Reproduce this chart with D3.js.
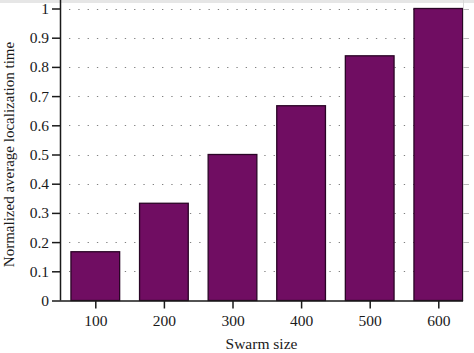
<!DOCTYPE html>
<html>
<head>
<meta charset="utf-8">
<script src="https://cdn.jsdelivr.net/npm/d3@7"></script>
<style>
  body { margin: 0; background: #fff; }
  svg { display: block; font-family: "Liberation Serif", "DejaVu Serif", serif; }
</style>
</head>
<body>
<svg width="474" height="353"></svg>
<script>
'use strict';

const swarmSizes = ['100', '200', '300', '400', '500', '600']
const normTime = [0.167, 0.333, 0.5, 0.667, 0.838, 1.0]
const yTicks = [0, 0.1, 0.2, 0.3, 0.4, 0.5, 0.6, 0.7, 0.8, 0.9, 1]

const svg = d3.select('svg')
const plotL = 60, plotR = 463, plotT = 8.5, plotB = 300.5

// light band at the very top
svg.append('rect').attr('x', 0).attr('y', 0).attr('width', 474).attr('height', 3).style('fill', '#e6e6e6')

const x = d3.scalePoint().domain(swarmSizes).range([61, 472.6]).padding(0.5)
const barW = x.step() * 0.71
const y = d3.scaleLinear().domain([0, 1]).range([plotB, plotT])

// dotted grid
svg.append('g').selectAll('line')
  .data(yTicks.slice(1))
  .enter()
  .append('line')
  .attr('x1', plotL + 9).attr('x2', plotR)
  .attr('y1', (d) => Math.round(y(d)) + 0.5)
  .attr('y2', (d) => Math.round(y(d)) + 0.5)
  .style('stroke', '#808080')
  .style('stroke-width', 1.2)
  .style('stroke-dasharray', '1.3 8')

// bars
svg.append('g').selectAll('rect')
  .data(normTime)
  .enter()
  .append('rect')
  .attr('x', (d, i) => x(swarmSizes[i]) - barW / 2)
  .attr('y', (d) => y(d))
  .attr('width', barW)
  .attr('height', (d) => plotB - y(d))
  .style('fill', '#700d62')
  .style('stroke', '#2a0526')
  .style('stroke-width', 1.3)

// right frame (faint)
svg.append('line').attr('x1', plotR + 0.5).attr('x2', plotR + 0.5).attr('y1', 0).attr('y2', plotB)
  .style('stroke', '#d8d8d8').style('stroke-width', 1)
svg.append('g').selectAll('line')
  .data(yTicks.slice(1))
  .enter()
  .append('line')
  .attr('x1', plotR).attr('x2', plotR + 6)
  .attr('y1', (d) => Math.round(y(d)) + 0.5)
  .attr('y2', (d) => Math.round(y(d)) + 0.5)
  .style('stroke', '#bbb')

// y axis
const yAxis = svg.append('g')
  .attr('transform', `translate(${plotL},0)`)
  .call(d3.axisLeft(y).tickValues(yTicks).tickFormat(d3.format('')).tickSize(8).tickPadding(3))
yAxis.select('.domain').attr('d', `M0.5,0V${plotB}`)

// x axis
const xAxis = svg.append('g')
  .attr('transform', `translate(0,${plotB})`)
  .call(d3.axisBottom(x).tickSize(8).tickPadding(6))
xAxis.select('.domain').attr('d', `M${plotL},0.5H${plotR}`)

svg.selectAll('.domain').style('stroke', '#1a1a1a').style('stroke-width', 1.5)
svg.selectAll('.tick line').style('stroke', '#1a1a1a').style('stroke-width', 1.5)
svg.selectAll('.tick text').style('font-family', '"Liberation Serif", serif').style('font-size', '15.5px').style('fill', '#1a1a1a')

// axis titles
svg.append('text')
  .attr('x', (plotL + plotR) / 2).attr('y', 349)
  .attr('text-anchor', 'middle')
  .style('font-size', '15.5px').style('fill', '#1a1a1a')
  .text('Swarm size')

svg.append('text')
  .attr('transform', `translate(14,${(plotT + plotB) / 2}) rotate(-90)`)
  .attr('text-anchor', 'middle')
  .style('font-size', '15px').style('fill', '#1a1a1a')
  .text('Normalized average localization time')
</script>
</body>
</html>
